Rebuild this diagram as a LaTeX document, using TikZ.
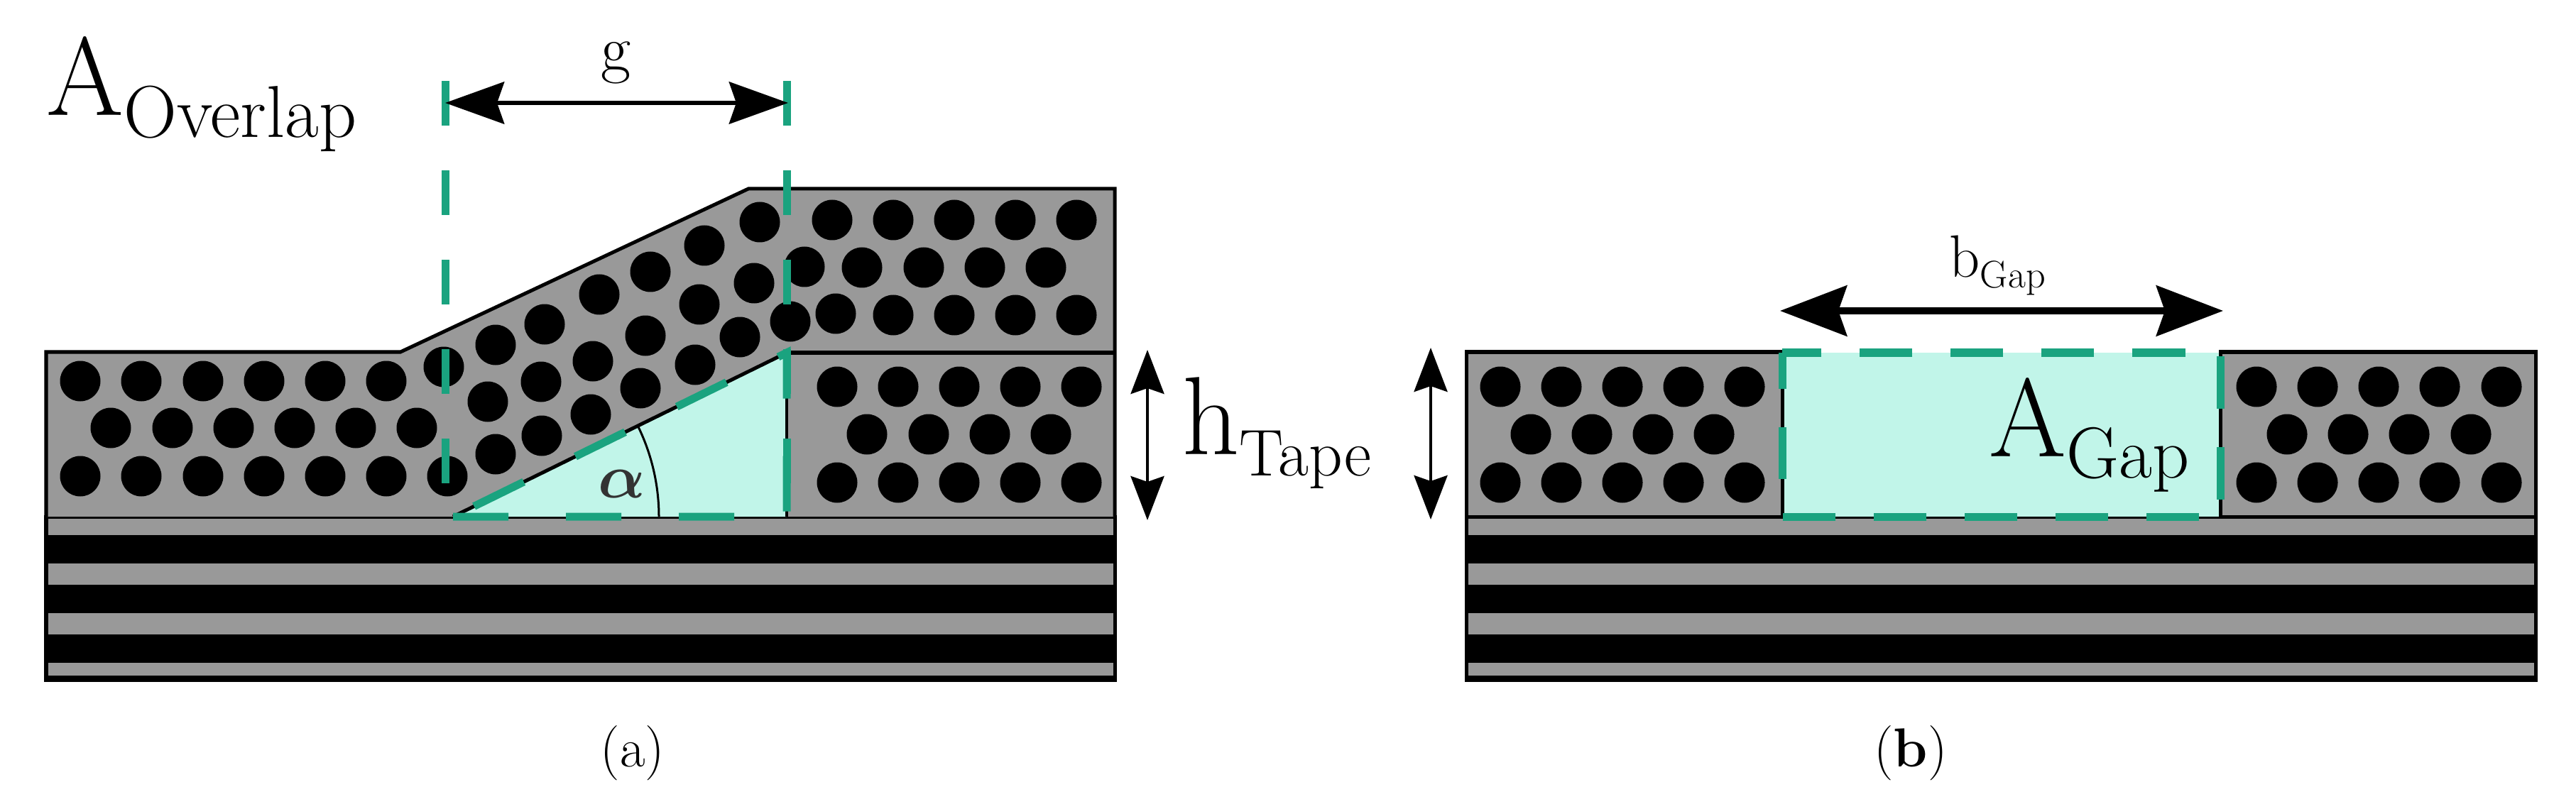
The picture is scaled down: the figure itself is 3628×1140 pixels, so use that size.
\documentclass[tikz,border=0pt]{standalone}
\usetikzlibrary{arrows.meta}
\definecolor{matrixgray}{HTML}{999999}
\definecolor{gapfill}{HTML}{C1F5E9}
\definecolor{gapline}{HTML}{1AA37F}
\newcommand{\sizedtext}[2]{{\fontsize{#1}{#1}\selectfont #2}}
\newcommand{\bigsub}[3]{\sizedtext{44.6}{#1}\raisebox{-8.8pt}{\sizedtext{#3}{#2}}}
\newcommand{\smallsub}[2]{\sizedtext{24}{#1}\raisebox{-4.5pt}{\sizedtext{15.4}{#2}}}
\tikzset{
  outline/.style={line width=.05cm},
  gapdash/.style={draw=gapline,line width=.11cm},
  label/.style={inner sep=0pt,anchor=base west},
  bigtip/.style={{Stealth[length=.83cm,width=.59cm,inset=.1cm]}-{Stealth[length=.83cm,width=.59cm,inset=.1cm]},line width=.065cm},
  gaptip/.style={{Stealth[length=.94cm,width=.71cm,inset=.12cm]}-{Stealth[length=.94cm,width=.71cm,inset=.12cm]},line width=.09cm},
  htip/.style={{Stealth[length=.62cm,width=.47cm,inset=.08cm]}-{Stealth[length=.62cm,width=.47cm,inset=.08cm]},line width=.04cm},
}
\begin{document}
\begin{tikzpicture}[x=.01cm,y=-.01cm]
\useasboundingbox (0,0) rectangle (3628,1140);
% laminate under both tapes
\foreach \xa/\xb in {65/1570,2065/3571}{
  \fill[matrixgray] (\xa,728) rectangle (\xb,958);
  \foreach \ya/\yb in {754/794,824/864,894/934,952/958}
    \fill[black] (\xa,\ya) rectangle (\xb,\yb);
  \draw[outline] (\xa,728) -- (\xb,728) -- (\xb,958) -- (\xa,958) -- cycle;
}
% (a) overlap
\coordinate (tip) at (638,728);
\coordinate (wedgetop) at (1108,497);
\coordinate (wedgefoot) at (1108,728);
\fill[matrixgray] (65,496) -- (564,496) -- (1054,266) -- (1570,266) -- (1570,728) -- (65,728) -- cycle;
\fill[gapfill] (tip) -- (wedgetop) -- (wedgefoot) -- cycle;
\draw[outline] (65,728) -- (65,496) -- (564,496) -- (1054,266) -- (1570,266) -- (1570,728);
\draw[outline] (1108,497) -- (1570,497);
\draw[line width=.035cm] (wedgefoot) -- (wedgetop);
\draw[outline] (tip) -- (wedgetop);
\foreach \x in {113,199,286,372,458,544}{
  \fill (\x,537) circle[radius=28.5];
  \fill (\x,671) circle[radius=28.5];
}
\foreach \x in {156,243,329,415,501,587}
  \fill (\x,603) circle[radius=28.5];
\foreach \x/\y in {625/517,630/671,698/486,687/566,698/640,767/457,762/538,763/614,844/415,835/509,832/584,916/383,909/473,902/547,992/346,985/429,979/514,1070/313,1062/399,1042/475,1133/376,1113/453,1177/442}
  \fill (\x,\y) circle[radius=28.5];
\foreach \x in {1172,1258,1344,1430,1516}
  \fill (\x,310) circle[radius=28.5];
\foreach \x in {1214,1301,1387,1473}
  \fill (\x,377) circle[radius=28.5];
\foreach \x in {1258,1344,1430,1516}
  \fill (\x,444) circle[radius=28.5];
\foreach \x in {1179,1265,1351,1437,1523}{
  \fill (\x,545) circle[radius=28.5];
  \fill (\x,680) circle[radius=28.5];
}
\foreach \x in {1221,1308,1394,1480}
  \fill (\x,612) circle[radius=28.5];
\draw[line width=.03cm] (928,728) arc[start angle=0,end angle=26.2,radius=2.9cm];
\node[inner sep=0pt,text=black!80] (alpha) at (876,682) {\sizedtext{24.88}{\boldmath$\alpha$}};
% dashed outlines
\coordinate (gleft) at (627,114);
\coordinate (gleftend) at (627,682);
\coordinate (gright) at (1108,114);
\coordinate (grightend) at (1108,686);
\draw[gapdash,dash pattern=on .63cm off .63cm] (gleft) -- (gleftend);
\draw[gapdash,dash pattern=on .63cm off .63cm] (gright) -- (grightend);
\draw[gapdash,dash pattern=on .78cm off .81cm] (tip) -- (wedgefoot) -- (wedgetop) -- cycle;
\coordinate (ga) at (627,145);
\coordinate (gb) at (1110,145);
\draw[bigtip] (ga) -- (gb);
\node[inner sep=0pt] (glabel) at (867,88) {\sizedtext{26}{g}};
\node[label] (aoverlap) at (65,163) {\bigsub{A}{Overlap}{29.5}};
\coordinate (hta) at (1616,493);
\coordinate (htb) at (1616,733);
\draw[htip] (hta) -- (htb);
\node[label] (htape) at (1665,640) {\bigsub{h}{Tape}{26.5}};
\node[inner sep=0pt,anchor=base] (capa) at (891,1080) {\sizedtext{22}{(a)}};
% (b) gap
\fill[matrixgray] (2065,496) rectangle (2510,728);
\fill[matrixgray] (3127,496) rectangle (3571,728);
\fill[gapfill] (2510,497) rectangle (3127,728);
\draw[outline] (2510,728) -- (2065,728) -- (2065,496) -- (2510,496) -- (2510,728);
\draw[outline] (3127,728) -- (3127,496) -- (3571,496) -- (3571,728) -- cycle;
\foreach \x in {2113,2199,2285,2371,2457,3178,3264,3350,3436,3523}{
  \fill (\x,545) circle[radius=28.5];
  \fill (\x,680) circle[radius=28.5];
}
\foreach \x in {2156,2242,2328,2414,3221,3307,3393,3480}
  \fill (\x,612) circle[radius=28.5];
\coordinate (gapbl) at (2511,728);
\coordinate (gapbr) at (3127,728);
\coordinate (gaptr) at (3127,497);
\coordinate (gaptl) at (2510,497);
\coordinate (gapfoot) at (2510,728);
\draw[gapdash,dash pattern=on .74cm off .54cm] (gapbl) -- (gapbr) -- (gaptr) -- (gaptl);
\draw[gapdash,dash pattern=on .51cm off .54cm on .73cm off .54cm] (gaptl) -- (gapfoot);
\coordinate (ba) at (2507,438);
\coordinate (bb) at (3131,438);
\draw[gaptip] (ba) -- (bb);
\node[label] (bgap) at (2745,390) {\smallsub{b}{Gap}};
\coordinate (hgapa) at (2015,490);
\coordinate (hgapb) at (2015,732);
\draw[htip] (hgapa) -- (hgapb);
\node[label] (agap) at (2801,643) {\bigsub{A}{Gap}{29}};
\node[inner sep=0pt,anchor=base] (capb) at (2691,1080) {\sizedtext{22}{(\textbf{b})}};
\end{tikzpicture}
\end{document}
